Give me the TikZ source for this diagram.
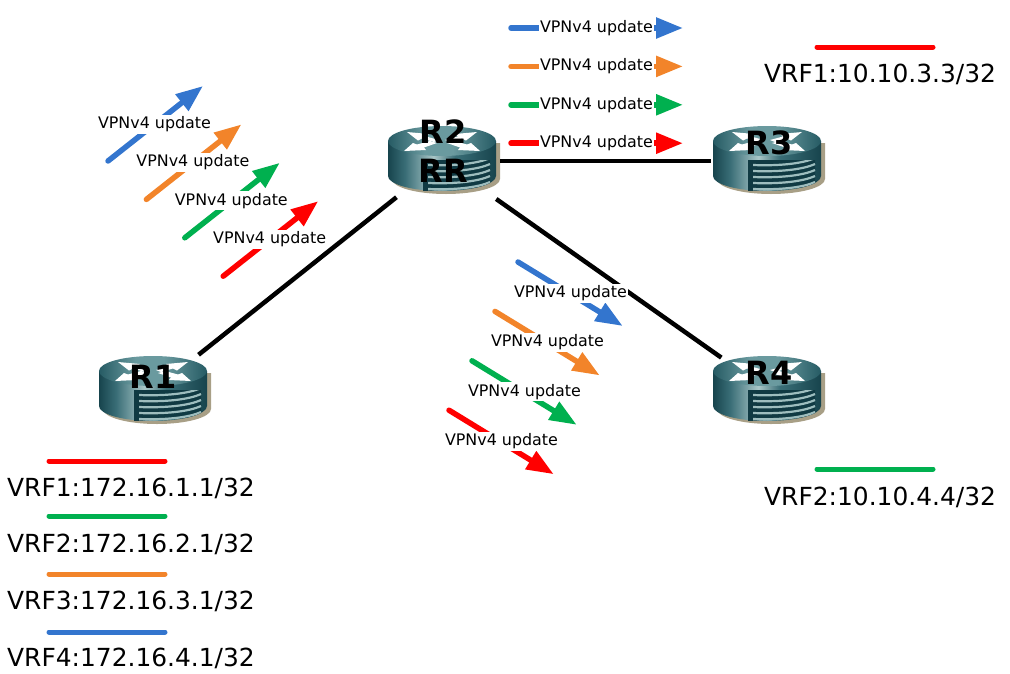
\documentclass[tikz,border=0pt]{standalone}
\usepackage{fontspec}
\setmainfont{DejaVu Sans}
\usetikzlibrary{arrows.meta}
\definecolor{vblue}{HTML}{3375CE}
\definecolor{vorange}{HTML}{F2842A}
\definecolor{vgreen}{HTML}{00B04F}
\definecolor{vred}{HTML}{FF0000}
\definecolor{rdark}{HTML}{17444D}
\definecolor{rmid}{HTML}{3A6E77}
\definecolor{rlight}{HTML}{A9C6C7}
\definecolor{rstripe}{HTML}{9DBDBE}
\definecolor{rtop}{HTML}{265B64}
\definecolor{rtopl}{HTML}{6A9A9F}
\definecolor{rshadow}{HTML}{A89F86}
\definecolor{rbar}{HTML}{103A43}
\pgfdeclarehorizontalshading{routerbody}{100bp}{color(0bp)=(rdark); color(25bp)=(rdark); color(33bp)=(rmid); color(46bp)=(rlight); color(56bp)=(rmid); color(75bp)=(rdark); color(100bp)=(rdark)}
\pgfdeclarehorizontalshading{routertop}{100bp}{color(0bp)=(rtop); color(25bp)=(rtop); color(42bp)=(rtopl); color(55bp)=(rtopl); color(75bp)=(rtop); color(100bp)=(rtop)}
\tikzset{
  link/.style={draw=black,line width=4.5pt},
  flow/.style={line width=5.5pt,line cap=round,-{Triangle[length=27pt,width=20pt]}},
  vrfline/.style={line width=5pt,line cap=round},
  vpnlabel/.style={fill=white,inner sep=0pt,minimum width=115pt,minimum height=19pt,font=\fontsize{15.9}{18}\selectfont},
  vrflabel/.style={anchor=west,inner sep=0pt,font=\fontsize{24.9}{28}\selectfont},
  rname/.style={inner sep=0pt,font=\fontsize{32}{36}\selectfont\bfseries},
  anchorbox/.style={circle,inner sep=0pt,minimum size=116pt},
  pics/router/.style={code={
    \begin{scope}[x=1pt,y=1pt]
      % shadow
      \fill[rshadow] (-50,-2) -- (-50,-38) arc[start angle=180,end angle=360,x radius=54,y radius=15] -- (58,-2) -- cycle;
      % body
      \path[shade,shading=routerbody] (-54,0) -- (-54,-35) arc[start angle=180,end angle=360,x radius=54,y radius=15] -- (54,0) -- cycle;
      % vent panel
      \begin{scope}
        \clip (-16,-19) rectangle (50,-50);
        \clip (-54,0) -- (-54,-35) arc[start angle=180,end angle=360,x radius=54,y radius=15] -- (54,0) -- cycle;
        \fill[rbar] (-16,-18) -- (48,-12) -- (48,-46) -- (-16,-50) -- cycle;
        \foreach \d in {0,6,12,18,24} {
          \draw[rstripe,line width=2.2pt] (-14,{-24-\d}) .. controls (10,{-25-\d}) and (35,{-23-\d}) .. (48,{-17-\d});
        }
      \end{scope}
      \fill[rbar] (-19,-19) rectangle (-14,-50);
      % top
      \path[shade,shading=routertop] (0,0) ellipse[x radius=54,y radius=15];
      % white arrows
      \fill[white] (-35,9) -- (-13,7) -- (-16,4.5) -- (-3,1) -- (-8,-1) -- (-20,2.5) -- (-24,0.5) -- cycle;
      \fill[white] (35,9) -- (13,7) -- (16,4.5) -- (3,1) -- (8,-1) -- (20,2.5) -- (24,0.5) -- cycle;
      \fill[white] (-38,-10) -- (-16,-9) -- (-18,-6.5) -- (-5,-2) -- (-12,0) -- (-25,-3.5) -- (-29,-2) -- cycle;
      \fill[white] (38,-10) -- (16,-9) -- (18,-6.5) -- (5,-2) -- (12,0) -- (25,-3.5) -- (29,-2) -- cycle;
    \end{scope}
  }}
}
\begin{document}
\begin{tikzpicture}[x=1pt,y=-1pt]
\useasboundingbox (0,0) rectangle (1010,673);
% routers
\pic at (153,371) {router};
\pic at (442,141) {router};
\pic at (767,141) {router};
\pic at (767,371) {router};
\node[anchorbox] (r1) at (153,391) {};
\node[anchorbox] (r2) at (442,161) {};
\node[anchorbox] (r3) at (769,161) {};
\node[anchorbox] (r4) at (769,391) {};
% links
\draw[link] (r1) -- (r2);
\draw[link] (r2) -- (r3);
\draw[link,shorten <=8pt] (r2.-35.5) -- (r4.145);
% update arrows
\foreach \i/\c in {0/vblue,1/vorange,2/vgreen,3/vred} {
  \coordinate (as\i) at ({108+38.4*\i},{161+38.4*\i});
  \coordinate (at\i) at ({203+38.4*\i},{86+38.4*\i});
  \draw[flow,draw=\c,fill=\c] (as\i) -- (at\i);
  \coordinate (bs\i) at ({518-23*\i},{262+49.4*\i});
  \coordinate (bt\i) at ({622.7-23*\i},{326+49.4*\i});
  \draw[flow,draw=\c,fill=\c] (bs\i) -- (bt\i);
  \coordinate (cs\i) at (511,{28+38.4*\i});
  \coordinate (ct\i) at (683,{28+38.4*\i});
  \draw[flow,draw=\c,fill=\c] (cs\i) -- (ct\i);
}
\foreach \i in {0,1,2,3} {
  \node[vpnlabel] (la\i) at ({154.5+38.4*\i},{124+38.4*\i}) {VPNv4 update};
  \node[vpnlabel] (lb\i) at ({570.5-23*\i},{293+49.4*\i}) {VPNv4 update};
  \node[vpnlabel] (lc\i) at (596.5,{28+38.4*\i}) {VPNv4 update};
}
% router names
\node[rname] (n1) at (153,377) {R1};
\node[rname] (n2) at (443,132) {R2};
\node[rname] (n2b) at (443,171) {RR};
\node[rname] (n3) at (769,143) {R3};
\node[rname] (n4) at (769,373) {R4};
% VRF legends
\draw[vrfline,vred] (49,461) -- (165,461);
\draw[vrfline,vgreen] (49,516) -- (165,516);
\draw[vrfline,vorange] (49,574) -- (165,574);
\draw[vrfline,vblue] (49,632) -- (165,632);
\node[vrflabel] (v1) at (7,488.5) {VRF1:172.16.1.1/32};
\node[vrflabel] (v2) at (7,544.5) {VRF2:172.16.2.1/32};
\node[vrflabel] (v3) at (7,601.5) {VRF3:172.16.3.1/32};
\node[vrflabel] (v4) at (7,658.5) {VRF4:172.16.4.1/32};
\draw[vrfline,vred] (817,47) -- (933,47);
\draw[vrfline,vgreen] (817,469) -- (933,469);
\node[vrflabel] (v5) at (764,74.5) {VRF1:10.10.3.3/32};
\node[vrflabel] (v6) at (764,497.5) {VRF2:10.10.4.4/32};
\end{tikzpicture}
\end{document}
